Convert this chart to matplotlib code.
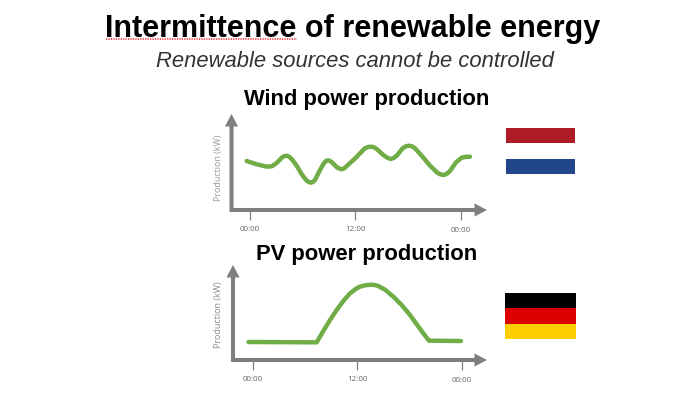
import matplotlib
matplotlib.use("Agg")
import matplotlib.pyplot as plt
from matplotlib.patches import Rectangle

W = 700
H = 394

title = "Intermittence of renewable energy"
subtitle = "Renewable sources cannot be controlled"
wind_title = "Wind power production"
pv_title = "PV power production"
y_label = "Production (kW)"

tick_hours = [0, 12, 24]
tick_labels = ["00:00", "12:00", "00:00"]

wind_hours = [-0.38, 0.76, 1.71, 2.1, 2.47, 3.04, 3.61, 3.9, 4.18, 4.46, 4.74, 5.31, 5.88, 6.45, 6.7, 6.94, 7.17, 7.39,
              7.96, 8.42, 8.66, 8.91, 9.16, 9.41, 9.93, 10.43, 10.75, 11.07, 11.38, 11.95, 12.51, 13.08,
              13.45, 13.85, 14.13, 14.41, 15.16, 15.6, 16.01, 16.35, 16.69, 17.37, 17.75, 18.12, 18.45,
              18.77, 19.53, 20.48, 21.31, 21.7, 22.07, 22.4, 22.75, 23.44, 24.09, 24.5, 25.03]
wind_kw = [49, 45.7, 43.7, 43.4, 43.7, 47, 52.3, 53.9, 54.3, 53.2, 51, 44.3, 35.7, 29.3, 27.9, 27.3, 28.1, 30,
           40, 47, 49.2, 49.7, 48.8, 47, 42.3, 40.7, 41.9, 44.5, 47, 51.5, 56.7, 61.7,
           63.1, 63.3, 62.6, 61, 55, 52.3, 51, 52, 54.3, 61.7, 63.8, 64.3, 63.6,
           61.7, 54.3, 44.3, 37.3, 35.5, 35, 36.3, 39, 47.7, 52.3, 53.1, 53.3]

pv_hours = [-0.46, 6.59, 7.35, 8.11, 8.88, 9.64, 10.4, 11.17, 11.94, 12.3, 12.69, 13.15, 13.65, 14.05, 14.41,
            15.18, 16.13, 17.09, 18.04, 18.81, 19.56, 20.22, 20.9, 23.88]
pv_kw = [18, 17.7, 17.7, 29, 40, 50, 59, 66.7, 71.7, 73.3, 74.3, 75, 75.3, 74.9, 74,
         70.3, 63.3, 55, 45, 35.7, 26.7, 19.3, 19.3, 19]

GREY = "#7f7f7f"
GREEN = "#70ad47"


def px_axes(fig, left, top, right, bottom):
    return fig.add_axes([left / W, 1 - bottom / H, (right - left) / W, (bottom - top) / H])


def draw_panel(fig, box, x0, px_per_hour, hours, values):
    left, top, right, bottom = box
    ax = px_axes(fig, left, top, right, bottom)
    ax.patch.set_alpha(0)
    ax.set_xlim((left - x0) / px_per_hour, (right - x0) / px_per_hour)
    ax.set_ylim(0, bottom - top)
    for s in ax.spines.values():
        s.set_visible(False)
    ax.set_yticks([])
    ax.set_xticks(tick_hours)
    ax.set_xticklabels(tick_labels, fontsize=5.8, color="#666666", family="Open Sans")
    ax.tick_params(axis="x", length=7.5, width=0.9, color=GREY, pad=4.3)
    last = ax.xaxis.get_major_ticks()[2]
    last.tick1line.set_markersize(8.5)
    last.set_pad(5)
    ax.plot(hours, values, color=GREEN, lw=3.2, solid_capstyle="round", solid_joinstyle="round",
            clip_on=False)
    arrow = dict(facecolor=GREY, edgecolor="none", width=2.9, headwidth=9.5, headlength=9, shrink=0)
    ax.annotate("", xy=(1, 0), xytext=(-0.006, 0), xycoords="axes fraction", arrowprops=arrow)
    ax.annotate("", xy=(0, 1), xytext=(0, -0.016), xycoords="axes fraction", arrowprops=arrow)
    return ax


fig = plt.figure(figsize=(W / 100, H / 100), dpi=100, facecolor="white")

bg = fig.add_axes([0, 0, 1, 1])
bg.set_xlim(0, W)
bg.set_ylim(H, 0)
bg.axis("off")

bg.text(353, 28.5, title, ha="center", va="center", fontsize=22, fontweight="bold",
        family="Liberation Sans", color="black")
bg.plot([106, 297], [38.6, 38.6], color="#ee1c25", lw=1.1, ls=(0, (0.8, 0.8)))
bg.text(355, 61.5, subtitle, ha="center", va="center", fontsize=15.8, style="italic",
        family="Liberation Sans", color="#333333")
bg.text(366.5, 99, wind_title, ha="center", va="center", fontsize=15.85, fontweight="bold",
        family="Liberation Sans", color="black")
bg.text(366.5, 254.5, pv_title, ha="center", va="center", fontsize=15.85, fontweight="bold",
        family="Liberation Sans", color="black")
bg.text(219, 168, y_label, ha="center", va="center", rotation=90, fontsize=6.4,
        family="Open Sans", color="#9a9a9a")
bg.text(219, 315, y_label, ha="center", va="center", rotation=90, fontsize=6.5,
        family="Open Sans", color="#8c8c8c")

# flags
bg.add_patch(Rectangle((505.5, 127.5), 69.5, 15.5, color="#ae1c28", lw=0))
bg.add_patch(Rectangle((505.5, 158.5), 69.5, 15.5, color="#21468b", lw=0))
bg.add_patch(Rectangle((505, 293), 71, 15, color="#000000", lw=0))
bg.add_patch(Rectangle((505, 308), 71, 16, color="#dd0000", lw=0))
bg.add_patch(Rectangle((505, 324), 71, 15, color="#ffce00", lw=0))

draw_panel(fig, (231.5, 114, 487, 210), 250, 8.79, wind_hours, wind_kw)
draw_panel(fig, (233, 265, 487, 360), 252.5, 8.73, pv_hours, pv_kw)

fig.savefig("out.png", dpi=100)
